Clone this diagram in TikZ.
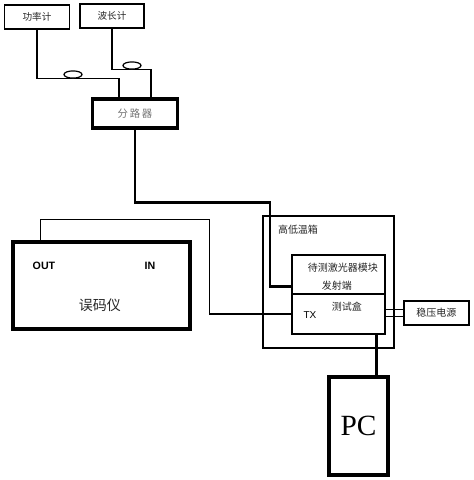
\documentclass[tikz,border=0pt]{standalone}
\usepackage{fontspec}
\newfontfamily\cjk{Noto Sans CJK SC}
\newfontfamily\labfont{Liberation Sans}
\newfontfamily\pcfont{Liberation Serif}
\usetikzlibrary{positioning}

\begin{document}
\begin{tikzpicture}[
  x=0.75pt, y=-0.75pt,
  box/.style={draw, line width=0.9pt, inner sep=0pt, font=\cjk\fontsize{7.2}{8}\selectfont, text=black!85},
  bigbox/.style={box, line width=2.4pt},
  txt/.style={inner sep=0pt, font=\cjk\fontsize{7.5}{9}\selectfont, text=black!85},
  port/.style={inner sep=0pt, font=\labfont\bfseries\fontsize{8}{9}\selectfont},
  wire/.style={line width=1pt},
  fiber/.style={line width=1.7pt},
  coil/.style={line width=0.9pt, fill=white}
]
\useasboundingbox (0,0) rectangle (474,480);

\node[box, minimum width=65*0.75pt, minimum height=24*0.75pt] (pm) at (37,17) {功率计};
\node[box, minimum width=64*0.75pt, minimum height=24*0.75pt] (wm) at (112,16) {波长计};
\node[bigbox, minimum width=85*0.75pt, minimum height=29*0.75pt, text=black!55, font=\cjk\fontsize{7.8}{9}\selectfont] (split) at (135,113.5) {分\,路\,器};

\node[bigbox, minimum width=177*0.75pt, minimum height=87*0.75pt] (bert) at (101.5,285.5) {};
\node[port] (out) at (44,266) {OUT};
\node[port] (in) at (150,266) {IN};
\node[txt, font=\cjk\fontsize{10.5}{12}\selectfont] (bertlab) at (100,305) {误码仪};

\node[draw, line width=0.8pt, minimum width=131*0.75pt, minimum height=132*0.75pt] (box) at (328.5,282) {};
\node[txt] (boxlab) at (298,230) {高低温箱};
\node[box, minimum width=93*0.75pt, minimum height=39*0.75pt] (module) at (338.5,274.5) {};
\node[txt] (modlab) at (343,268) {待测激光器模块};
\node[txt] (txlab) at (337,286) {发射端};
\node[box, minimum width=93*0.75pt, minimum height=40*0.75pt] (tbox) at (338.5,314) {};
\node[txt] (tboxlab) at (347,307) {测试盒};
\node[port, font=\labfont\fontsize{7.5}{9}\selectfont] (tx) at (310,315) {TX};

\node[box, minimum width=65*0.75pt, minimum height=24*0.75pt, font=\cjk\fontsize{7.5}{9}\selectfont] (psu) at (436.5,313) {稳压电源};
\node[bigbox, minimum width=59*0.75pt, minimum height=98*0.75pt, font=\pcfont\fontsize{22}{24}\selectfont, text=black] (pc) at (358.5,426) {PC};

\draw[wire] (pm.south) -- ++(0,49) -| ([xshift=-12pt]split.north);
\draw[wire] (wm.south) -- ++(0,41) -| ([xshift=12pt]split.north);
\draw[coil] (73,74.5) ellipse [x radius=9, y radius=3.6];
\draw[coil] (132,65.5) ellipse [x radius=9, y radius=3.6];

\draw[fiber] (split.south) -- ++(0,73) -- ++(135,0) |- ([yshift=6pt]module.south west);
\draw[wire] ([xshift=21.75pt]bert.north west) -- ++(0,-21) -- ++(169,0) |- (tbox.west);

\draw[wire] ([yshift=2.4pt]psu.west) -- ([yshift=2.4pt]psu.west -| tbox.east);
\draw[wire] ([yshift=-2.4pt]psu.west) -- ([yshift=-2.4pt]psu.west -| tbox.east);
\draw[line width=2pt] ([xshift=-9.75pt]pc.north east) -- ([xshift=-9.75pt]pc.north east |- tbox.south);
\end{tikzpicture}
\end{document}
